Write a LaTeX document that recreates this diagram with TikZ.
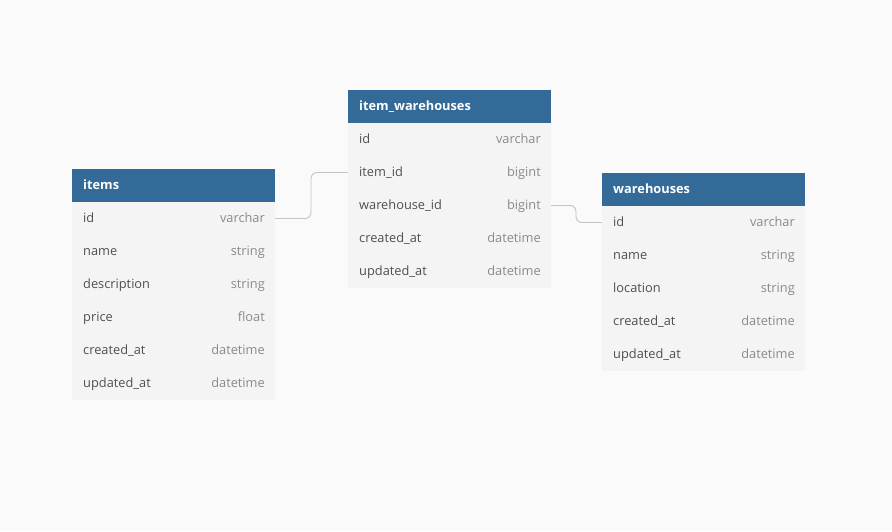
\documentclass[tikz,border=0pt]{standalone}
\usepackage{fontspec}
\setmainfont{Open Sans}
\definecolor{bgcol}{HTML}{FAFAFA}
\definecolor{hdrblue}{HTML}{336A98}
\definecolor{bodygrey}{HTML}{F4F4F4}
\definecolor{namecol}{HTML}{4F4F4F}
\definecolor{typecol}{HTML}{8A8A8A}
\definecolor{linkcol}{HTML}{C4C4C4}
\tikzset{
  hdr/.style={fill=hdrblue, draw=none, anchor=north west, minimum width=203pt, minimum height=33pt, inner sep=0pt, outer sep=0pt},
  tbody/.style={fill=bodygrey, draw=none, anchor=north west, minimum width=203pt, inner sep=0pt, outer sep=0pt},
  rowbox/.style={draw=none, anchor=north west, minimum width=203pt, minimum height=33pt, inner sep=0pt, outer sep=0pt},
  hdrtext/.style={anchor=base west, text=white, font=\bfseries\fontsize{12.8}{15}\selectfont, inner sep=0pt},
  fname/.style={anchor=base west, text=namecol, font=\fontsize{12.8}{15}\selectfont, inner sep=0pt},
  ftype/.style={anchor=base east, text=typecol, font=\fontsize{12.8}{15}\selectfont, inner sep=0pt},
  link/.style={draw=linkcol, line width=0.9pt, rounded corners=6pt}
}
\newcommand{\erdtable}[6]{%
  \node[hdr] (#1-h) at (#2,#3) {};
  \node[hdrtext] (#1-t) at (#2+11,#3+20.5) {#4};
  \node[tbody, minimum height=#5*33pt] (#1-b) at (#2,#3+33) {};
  \foreach \n/\t [count=\i] in {#6} {
    \node[rowbox] (#1-r\i) at (#2,#3+33*\i) {};
    \node[fname] (#1-n\i) at (#2+11,#3+20.5+33*\i) {\n};
    \node[ftype] (#1-y\i) at (#2+193,#3+20.5+33*\i) {\t};
  }
}
\begin{document}
\begin{tikzpicture}[x=1pt,y=-1pt]
  \fill[bgcol] (0,0) rectangle (892,531);
  \useasboundingbox (0,0) rectangle (892,531);
  \erdtable{it}{72}{169}{items}{6}{id/varchar, name/string, description/string, price/float, created\_at/datetime, updated\_at/datetime}
  \erdtable{iw}{348}{90}{item\_warehouses}{5}{id/varchar, item\_id/bigint, warehouse\_id/bigint, created\_at/datetime, updated\_at/datetime}
  \erdtable{wh}{602}{173}{warehouses}{5}{id/varchar, name/string, location/string, created\_at/datetime, updated\_at/datetime}
  \draw[link] (it-r1.east) -- ++(36,0) |- (iw-r2.west);
  \draw[link] (iw-r3.east) -- ++(25,0) |- (wh-r1.west);
\end{tikzpicture}
\end{document}
